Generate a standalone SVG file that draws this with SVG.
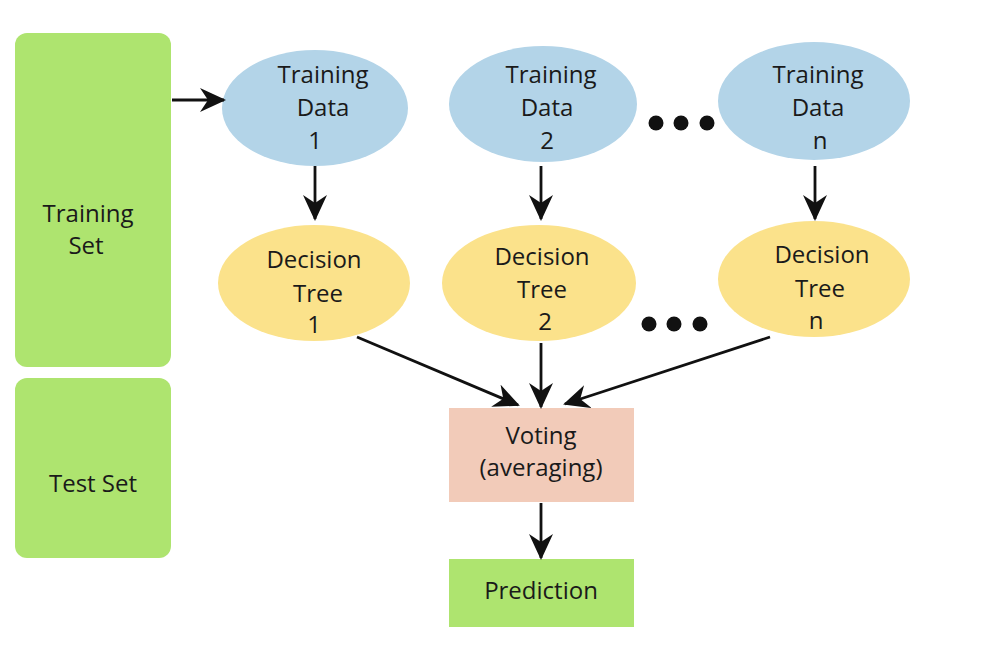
<svg xmlns="http://www.w3.org/2000/svg" width="986" height="651" viewBox="0 0 986 651">
<defs>
<marker id="ah" viewBox="0 0 26 24" refX="24" refY="12" markerWidth="26" markerHeight="24" markerUnits="userSpaceOnUse" orient="auto">
<path d="M0,0 L26,12 L0,24 L8,12 Z" fill="#111"/>
</marker>
<style>
text{font-family:"Open Sans","Noto Sans",sans-serif;font-size:24px;fill:#1a1a1a;text-anchor:middle}
.g{fill:#aee46f}
.b{fill:#b3d4e8}
.y{fill:#fbe28b}
.p{fill:#f2cbb9}
.c line{stroke:#111;stroke-width:2.8;marker-end:url(#ah)}
</style>
</defs>
<rect width="986" height="651" fill="#fff"/>
<g id="training-set"><rect class="g" x="15" y="33" width="156" height="334" rx="12"/><text x="88" y="222">Training</text><text x="86" y="254">Set</text></g>
<g id="test-set"><rect class="g" x="15" y="378" width="156" height="180" rx="12"/><text x="93" y="492">Test Set</text></g>
<g id="td1"><ellipse class="b" cx="315" cy="108" rx="93" ry="58"/><text x="323" y="83">Training</text><text x="323" y="116">Data</text><text x="315" y="149">1</text></g>
<g id="td2"><ellipse class="b" cx="543" cy="104" rx="94" ry="58"/><text x="551" y="83">Training</text><text x="547" y="116">Data</text><text x="547" y="149">2</text></g>
<g id="tdn"><ellipse class="b" cx="814" cy="101" rx="96" ry="59"/><text x="818" y="83">Training</text><text x="818" y="116">Data</text><text x="820" y="149">n</text></g>
<g id="dt1"><ellipse class="y" cx="314" cy="283" rx="96" ry="58"/><text x="314" y="268">Decision</text><text x="318" y="302">Tree</text><text x="314" y="333">1</text></g>
<g id="dt2"><ellipse class="y" cx="539" cy="283" rx="97" ry="58"/><text x="542" y="265">Decision</text><text x="542" y="298">Tree</text><text x="545" y="330">2</text></g>
<g id="dtn"><ellipse class="y" cx="814" cy="279" rx="96" ry="58"/><text x="822" y="263">Decision</text><text x="820" y="297">Tree</text><text x="816" y="329">n</text></g>
<g id="dots-top" fill="#111"><circle cx="656" cy="123" r="7.5"/><circle cx="681" cy="123" r="7.5"/><circle cx="707" cy="123" r="7.5"/></g>
<g id="dots-bottom" fill="#111"><circle cx="649" cy="324" r="7.5"/><circle cx="674" cy="324" r="7.5"/><circle cx="700" cy="324" r="7.5"/></g>
<g id="voting"><rect class="p" x="449" y="408" width="185" height="94"/><text x="541" y="444">Voting</text><text x="541" y="476">(averaging)</text></g>
<g id="prediction"><rect class="g" x="449" y="559" width="185" height="68"/><text x="541" y="599">Prediction</text></g>
<g class="c" id="connectors">
<line x1="172" y1="100" x2="224" y2="100"/>
<line x1="315" y1="166" x2="315" y2="219"/>
<line x1="541" y1="166" x2="541" y2="219"/>
<line x1="815" y1="166" x2="815" y2="219"/>
<line x1="357" y1="337" x2="518" y2="405"/>
<line x1="541" y1="343" x2="541" y2="407"/>
<line x1="770" y1="337" x2="565" y2="404"/>
<line x1="541" y1="503" x2="541" y2="558"/>
</g>
</svg>
